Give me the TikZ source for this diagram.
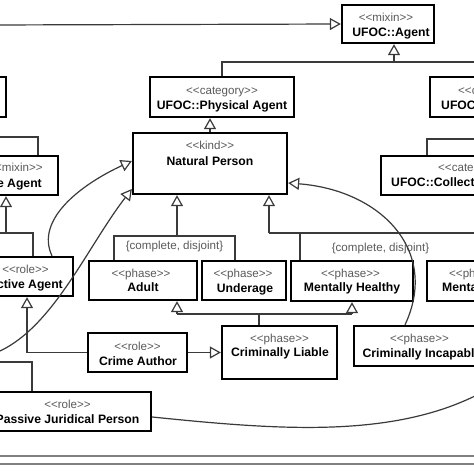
\documentclass[tikz,border=0pt]{standalone}
\usepackage{fontspec}
\setmainfont{Liberation Sans}
\usetikzlibrary{arrows.meta,calc}
\definecolor{conn}{HTML}{3A3A3A}
\definecolor{stc}{HTML}{5A5A5A}
\newcommand\stereo[1]{<\kern0pt<#1>\kern0pt>}
\begin{document}
\begin{tikzpicture}[x=1pt,y=-1pt,
 cls/.style={draw=black, line width=2.3pt, fill=white, inner sep=0pt},
 st/.style={text=stc, font=\fontsize{11.6}{13}\selectfont, inner sep=0pt, text height=8.4pt, text depth=2.2pt},
 nm/.style={text=black, font=\fontsize{12.2}{14}\selectfont\bfseries, inner sep=0pt, text height=8.8pt, text depth=2.4pt},
 ln/.style={draw=conn, line width=1.2pt},
 gen/.style={ln, -{Triangle[length=11pt,width=12pt,fill=white]}},
 gs/.style={text=stc, font=\fontsize{11.6}{13}\selectfont, inner sep=0pt, text height=8.4pt, text depth=2.2pt},
 framel/.style={draw=gray, line width=1.2pt}]
\useasboundingbox (0,0) rectangle (474,474);
\clip (0,0) rectangle (474,474);
\fill[white] (0,0) rectangle (474,474);

% classes
\node[cls, minimum width=92pt, minimum height=38pt] (agent) at (388,24) {};
\node[st] (agentS) at (386,18) {\stereo{mixin}};
\node[nm] (agentN) at (391,33) {UFOC::Agent};

\node[cls, minimum width=144pt, minimum height=40pt] (pa) at (222,97) {};
\node[st] (paS) at (222,91) {\stereo{category}};
\node[nm] (paN) at (222,106) {UFOC::Physical Agent};

\node[cls, minimum width=130pt, minimum height=40pt] (sa) at (495,97) {};
\node[st, anchor=west] (saS) at (458,91) {\stereo{category}};
\node[nm, anchor=west] (saN) at (441,106) {UFOC::Social Agent};

\node[cls, minimum width=66pt, minimum height=40pt] (lt) at (-27,97) {};

\node[cls, minimum width=154pt, minimum height=61pt] (np) at (210,163.5) {};
\node[st] (npS) at (210,146) {\stereo{kind}};
\node[nm] (npN) at (210,162) {Natural Person};

\node[cls, minimum width=85pt, minimum height=39pt] (mx) at (15.5,175.5) {};
\node[st] (mxS) at (15.5,168) {\stereo{mixin}};
\node[nm, anchor=east] (mxN) at (42,184) {Crime Agent};

\node[cls, minimum width=200pt, minimum height=39pt] (co) at (481,175.5) {};
\node[st, anchor=west] (coS) at (438,168) {\stereo{category}};
\node[nm, anchor=west] (coN) at (391,183) {UFOC::Collective Agent};

\node[cls, minimum width=96pt, minimum height=39pt] (aa) at (25,276.5) {};
\node[st] (aaS) at (25.5,270) {\stereo{role}};
\node[nm, anchor=east] (aaN) at (63,285) {Active Agent};

\node[cls, minimum width=108pt, minimum height=39pt] (ad) at (143,280.5) {};
\node[st] (adS) at (141,274) {\stereo{phase}};
\node[nm] (adN) at (143,288) {Adult};

\node[cls, minimum width=84pt, minimum height=39pt] (ud) at (244,280.5) {};
\node[st] (udS) at (243,274) {\stereo{phase}};
\node[nm] (udN) at (245,289) {Underage};

\node[cls, minimum width=122pt, minimum height=40pt] (mh) at (352,281) {};
\node[st] (mhS) at (350.5,274) {\stereo{phase}};
\node[nm] (mhN) at (352,288) {Mentally Healthy};

\node[cls, minimum width=146pt, minimum height=40pt] (mi) at (500,281) {};
\node[st, anchor=west] (miS) at (449,274) {\stereo{phase}};
\node[nm, anchor=west] (miN) at (442,288) {Mentally Ill};

\node[cls, minimum width=99pt, minimum height=39pt] (ca) at (137.5,352.5) {};
\node[st] (caS) at (137.5,347) {\stereo{role}};
\node[nm] (caN) at (138,362) {Crime Author};

\node[cls, minimum width=115pt, minimum height=53pt] (cl) at (279.5,352.5) {};
\node[st] (clS) at (279.5,339) {\stereo{phase}};
\node[nm] (clN) at (280,353) {Criminally Liable};

\node[cls, minimum width=136pt, minimum height=40pt] (ci) at (422,346) {};
\node[st] (ciS) at (419.5,339) {\stereo{phase}};
\node[nm] (ciN) at (422,354) {Criminally Incapable};

\node[cls, minimum width=167pt, minimum height=39pt] (pj) at (67.5,411.5) {};
\node[st] (pjS) at (67.5,405) {\stereo{role}};
\node[nm] (pjN) at (67.5,420) {Passive Juridical Person};

% generalization set labels
\node[gs] (gs1) at (174.5,246) {\{complete, disjoint\}};
\node[gs] (gs2) at (380.5,248) {\{complete, disjoint\}};

% free ends
\coordinate (L1) at (-10,25);
\coordinate (J1) at (394,62);
\coordinate (R1) at (480,62);
\coordinate (L2) at (-10,137);
\coordinate (L3) at (-10,233);
\coordinate (J2) at (6,233);
\coordinate (J3a) at (177,314);
\coordinate (J3b) at (352,314);
\coordinate (J4) at (177,236);
\coordinate (J5) at (269,233);
\coordinate (R2) at (480,233);
\coordinate (R3) at (480,139);
\coordinate (L4) at (-10,355);
\coordinate (R4) at (490,388);
\coordinate (L5) at (-10,362);

% connectors
\draw[gen] (L1) -- (agent.west);
\draw[ln] (pa.north) |- (R1);
\draw[gen] (J1) -- (J1 |- agent.south);
\draw[gen] (np.north) -- (np.north |- pa.south);
\draw[ln] ([xshift=-54pt]co.north) |- (R3);
\draw[ln] ([xshift=22.5pt]mx.north) |- (L2);
\draw[ln] ([xshift=8pt]aa.north) |- (L3);
\draw[gen] (J2) -- (J2 |- mx.south);
\draw[gen] (ca.west) -| ([xshift=2pt]aa.south);
\draw[gen] (ca.east) -- (cl.west);
\draw[ln] (J3a) -- (J3b);
\draw[ln] ([xshift=-20.5pt]cl.north) -- ([xshift=-20.5pt]cl.north |- J3a);
\draw[gen] (J3a) -- (J3a |- ad.south);
\draw[gen] (J3b) -- (J3b |- mh.south);
\draw[gen] (J4) -- (J4 |- np.south);
\draw[ln] ([xshift=-29pt]ad.north) -- ([xshift=-29pt]ad.north |- J4) -| ([xshift=-9pt]ud.north);
\draw[ln] (J5) -- (R2);
\draw[gen] (J5) -- (J5 |- np.south);
\draw[ln] ([xshift=-52pt]mh.north) -- ([xshift=-52pt]mh.north |- J5);
\draw[ln] ([xshift=-35.5pt]pj.north) |- (L5);
\draw[gen] ([xshift=-17pt]ci.north) .. controls (440,250) and (380,190) .. ([yshift=-19.5pt]np.east);
\draw[gen] ([xshift=27pt]aa.north) .. controls (35,220) and (80,185) .. ([yshift=2.5pt]np.west);
\draw[gen] (L4) .. controls (50,335) and (85,250) .. ([yshift=-25.5pt]np.west);
\draw[ln] ([yshift=-5.5pt]pj.east) .. controls (280,430) and (400,440) .. (R4);

% frame lines at bottom
\draw[framel] (-5,456) -- (480,456);
\draw[framel] (-5,464) -- (480,464);
\end{tikzpicture}
\end{document}
